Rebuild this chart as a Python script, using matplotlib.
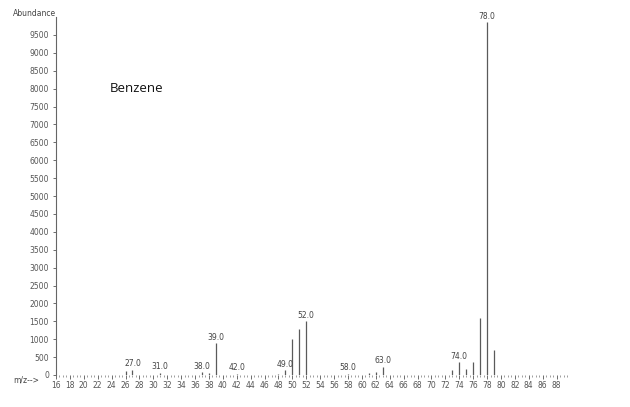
import matplotlib
matplotlib.use("Agg")
import matplotlib.pyplot as plt
from matplotlib.ticker import MultipleLocator

# Mass spectrum of benzene (m/z, abundance)
mz = [26, 27, 31, 37, 38, 39, 42, 48, 49, 50, 51, 52, 58, 61, 62, 63,
      73, 74, 75, 76, 77, 78, 79]
abundance = [100, 150, 60, 70, 60, 890, 40, 40, 140, 1000, 1285, 1510, 40, 60, 80, 230,
             140, 360, 170, 360, 1600, 9850, 700]
# labelled peaks (m/z value, printed label)
label_mz = [27, 31, 37, 39, 42, 49, 52, 58, 63, 74, 78]
label_txt = ["27.0", "31.0", "38.0", "39.0", "42.0", "49.0", "52.0", "58.0", "63.0", "74.0", "78.0"]
title = "Benzene"

fig = plt.figure(figsize=(6.3, 4.07), dpi=100)
ax = fig.add_axes([56/630, (407-375)/407, (567-56)/630, (375-17)/407])

ax.vlines(mz, 0, abundance, colors="#5a5a5a", linewidth=0.9)

for m, t in zip(label_mz, label_txt):
    h = abundance[mz.index(m)]
    ax.text(m, h + 40, t, ha="center", va="bottom", fontsize=5.5, color="#444444")

ax.set_xlim(16, 89.5)
ax.set_ylim(0, 10000)
ax.xaxis.set_major_locator(MultipleLocator(2))
ax.xaxis.set_minor_locator(MultipleLocator(0.5))
ax.set_yticks(range(0, 10000, 500))
ax.tick_params(axis="both", labelsize=5.5, colors="#555555", width=0.6)
ax.tick_params(axis="x", which="major", length=3, pad=1.5)
ax.tick_params(axis="x", which="minor", length=1.5, width=0.5, colors="#777777")
ax.tick_params(axis="y", length=2, pad=3)

for s in ["top", "right"]:
    ax.spines[s].set_visible(False)
ax.spines["left"].set_color("#666666")
ax.spines["left"].set_linewidth(0.8)
ax.spines["bottom"].set_visible(False)

fig.text(13/630, 1 - 14/407, "Abundance", fontsize=5.5, color="#444444", va="center", ha="left")
fig.text(13/630, 1 - 380/407, "m/z-->", fontsize=5.5, color="#444444", va="center", ha="left")
ax.text(27.6, 8000, title, fontsize=9.5, family="Open Sans", color="#111111", va="center", ha="center")

fig.savefig("out.png", dpi=100, facecolor="white")
